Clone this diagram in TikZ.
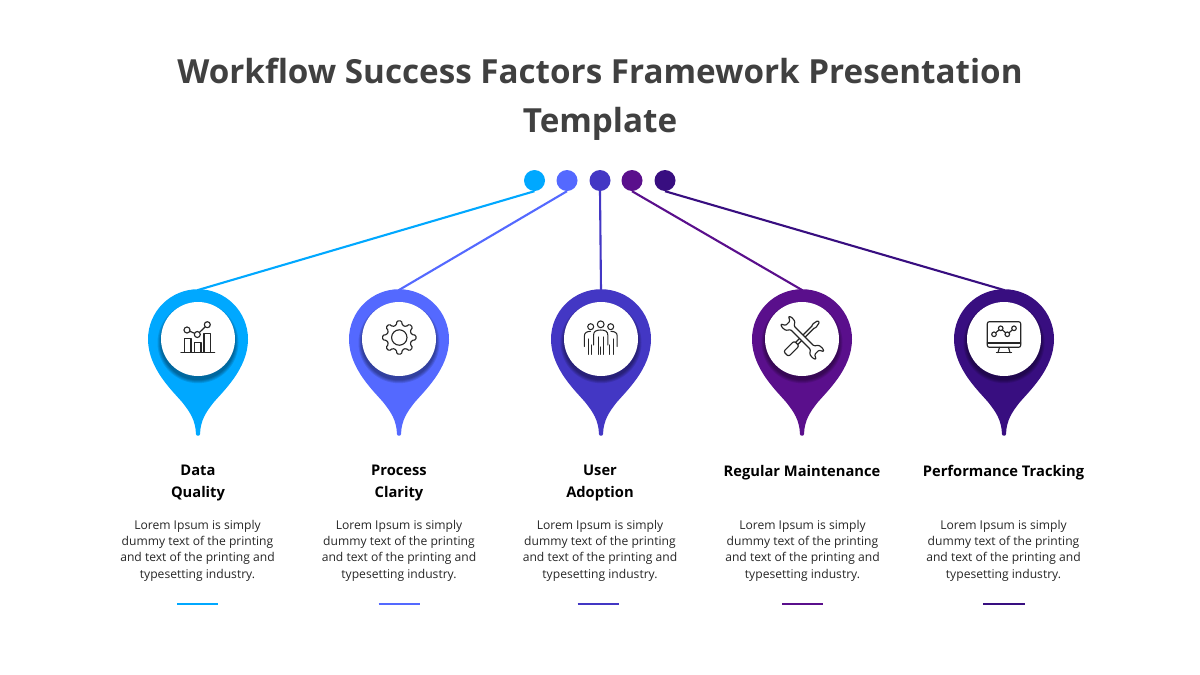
\documentclass[tikz,border=0pt]{standalone}
\usepackage{fontspec}
\setmainfont{Open Sans}
\definecolor{c1}{HTML}{00A8FF}
\definecolor{c2}{HTML}{5469FF}
\definecolor{c3}{HTML}{4337C4}
\definecolor{c4}{HTML}{5A0F8C}
\definecolor{c5}{HTML}{380E80}
\definecolor{titlegray}{HTML}{404040}
\definecolor{bodygray}{HTML}{262626}
\tikzset{
  dotnode/.style={circle,inner sep=0pt,minimum size=21pt},
  discnode/.style={circle,fill=white,inner sep=0pt,minimum size=74pt},
  titletext/.style={text=titlegray,font=\fontsize{33.2}{49}\selectfont\bfseries,align=center},
  headtext/.style={text=black,font=\fontsize{14.7}{21.7}\selectfont\bfseries,align=center,anchor=north},
  bodytext/.style={text=bodygray,font=\fontsize{12.1}{16.35}\selectfont,align=center,anchor=north},
  link/.style={line width=2.1pt},
  rulemark/.style={line width=1.9pt},
  icon/.style={draw=black!85,line width=1.15pt,line join=round,line cap=round}
}
\newcommand{\pinshape}{(-2,95) .. controls (-2.5,80) and (-9,72) .. (-15,64) .. controls (-24,53) and (-50,30) .. (-50,0) .. controls (-50,-27.6) and (-27.6,-50) .. (0,-50) .. controls (27.6,-50) and (50,-27.6) .. (50,0) .. controls (50,30) and (24,53) .. (15,64) .. controls (9,72) and (2.5,80) .. (2,95) .. controls (2,97) and (-2,97) .. (-2,95) -- cycle}
\begin{document}
\begin{tikzpicture}[x=1pt,y=-1pt]
\useasboundingbox (0,0) rectangle (1200,675);
\fill[white] (0,0) rectangle (1200,675);

\node[titletext] (title) at (600,99.5) {Workflow Success Factors Framework Presentation\\Template};

% dots
\foreach \i/\x in {1/534.5,2/567,3/600,4/632,5/665}
  \node[dotnode,fill=c\i] (dot\i) at (\x,180.5) {};

% pin top coordinates
\foreach \i/\x in {1/198,2/399,3/601,4/802,5/1004}
  \coordinate (top\i) at (\x,290);

% connectors
\foreach \i in {1,...,5}
  \draw[link,c\i] (dot\i.south) -- (top\i);

% pins
\foreach \i/\x in {1/198,2/399,3/601,4/802,5/1004}{
  \begin{scope}[shift={(\x,339.2)}]
    \fill[c\i] \pinshape;
    \foreach \r in {40.5,39.5,38.5,37.5}
      \fill[black,opacity=.11] (0,3.5) circle (\r);
  \end{scope}
  \node[discnode] (disc\i) at (\x,339) {};
}

% icon 1: chart
\begin{scope}[icon]
  \draw (181,352.3) -- (214.7,352.3);
  \draw (184.3,352.3) |- (191,338.3) -- (191,352.3);
  \draw (194.3,352.3) |- (201,342.7) -- (201,352.3);
  \draw (204,352.3) |- (210.7,333.3) -- (210.7,352.3);
  \draw (187,330) circle (3);
  \draw (197.3,334.5) circle (3);
  \draw (207.3,324.7) circle (3);
  \draw (189.8,331.2) -- (194.5,333.3);
  \draw (199.5,332.4) -- (205.1,326.9);
\end{scope}

% icon 2: gear
\begin{scope}[icon,shift={(399.3,337.5)}]
  \draw (0,0) circle (7.7);
  \draw[rounded corners=1.2pt]
    \foreach \a in {0,45,...,315}{
      (\a-22.5:12.5) -- (\a-13:12.8) -- (\a-8:16.8) -- (\a+8:16.8) -- (\a+13:12.8) -- (\a+22.5:12.5)
    };
\end{scope}

% icon 3: people
\begin{scope}[icon,line width=1.05pt]
  \draw (600.7,324.3) circle (3.4);
  \draw (590.7,326.7) circle (3);
  \draw (610.7,326.7) circle (3);
  \draw (593.6,345) -- (593.6,335) .. controls (593.6,331.5) and (596,330) .. (600.7,330) .. controls (605.4,330) and (607.8,331.5) .. (607.8,335) -- (607.8,345);
  \draw (584.4,346.5) -- (584.4,336) .. controls (584.4,332.8) and (586.5,331.5) .. (590.5,331.3);
  \draw (617.2,346.5) -- (617.2,336) .. controls (617.2,332.8) and (615,331.5) .. (611,331.3);
  \draw (588.2,339) -- (588.2,354.3);
  \draw (591.8,345) -- (591.8,354.3);
  \draw (598.2,337) -- (598.2,354.3);
  \draw (603.2,337) -- (603.2,354.3);
  \draw (609.8,345) -- (609.8,354.3);
  \draw (613.6,339) -- (613.6,354.3);
  \draw (600.7,347) -- (600.7,354.3);
\end{scope}

% icon 4: tools
\begin{scope}[icon,shift={(802.3,337.8)},rotate=45]
  \draw[rounded corners=2pt] (-23,-3.5) rectangle (-8,3.5);
  \draw (-8,-1.5) -- (15,-1.5) (-8,1.5) -- (15,1.5);
  \draw[rounded corners=.8pt] (15,-1.5) -- (17,-2.4) -- (23,-1.2) -- (23,1.2) -- (17,2.4) -- (15,1.5);
\end{scope}
\begin{scope}[icon,shift={(802.3,337.8)},rotate=-45]
  \draw[fill=white,rounded corners=1pt] (14,-2.5) -- (17,-6.5) -- (22,-7) -- (25,-5.5) -- (20.5,-3) -- (20.5,3) -- (25,5.5) -- (22,7) -- (17,6.5) -- (14,2.5) -- (-14,2.5) -- (-17,6.5) -- (-22,7) -- (-25,5.5) -- (-20.5,3) -- (-20.5,-3) -- (-25,-5.5) -- (-22,-7) -- (-17,-6.5) -- (-14,-2.5) -- cycle;
\end{scope}

% icon 5: monitor
\begin{scope}[icon]
  \draw[rounded corners=2pt] (987.3,321.7) rectangle (1020.7,347.3);
  \draw (987.3,343) -- (1020.7,343);
  \draw (999.5,347.3) -- (998,352.7) (1008.5,347.3) -- (1010,352.7);
  \draw (996.5,352.7) -- (1011.5,352.7);
  \draw (994,334.3) circle (2.3);
  \draw (1000.7,328.3) circle (2.3);
  \draw (1007.3,334.3) circle (2.3);
  \draw (1014,328.3) circle (2.3);
  \draw (995.7,332.8) -- (999,329.9) (1002.4,329.9) -- (1005.6,332.8) (1009,332.8) -- (1012.3,329.9);
\end{scope}

% headings
\node[headtext] (h1) at (198,461.3) {Data\\Quality};
\node[headtext] (h2) at (399,461.3) {Process\\Clarity};
\node[headtext] (h3) at (600,461.3) {User\\Adoption};
\node[headtext] (h4) at (802,461.3) {Regular Maintenance};
\node[headtext] (h5) at (1003.5,461.3) {Performance Tracking};

% body
\foreach \i/\x in {1/197.5,2/399,3/600,4/802.5,5/1003.5}
  \node[bodytext] (b\i) at (\x,516.5) {Lorem Ipsum is simply\\dummy text of the printing\\and text of the printing and\\typesetting industry.};

% rules
\foreach \i/\a/\b in {1/177/218,2/378.5/420,3/577.5/619,4/782/823,5/983/1025}{
  \coordinate (ra\i) at (\a,604);
  \coordinate (rb\i) at (\b,604);
  \draw[rulemark,c\i] (ra\i) -- (rb\i);
}
\end{tikzpicture}
\end{document}
